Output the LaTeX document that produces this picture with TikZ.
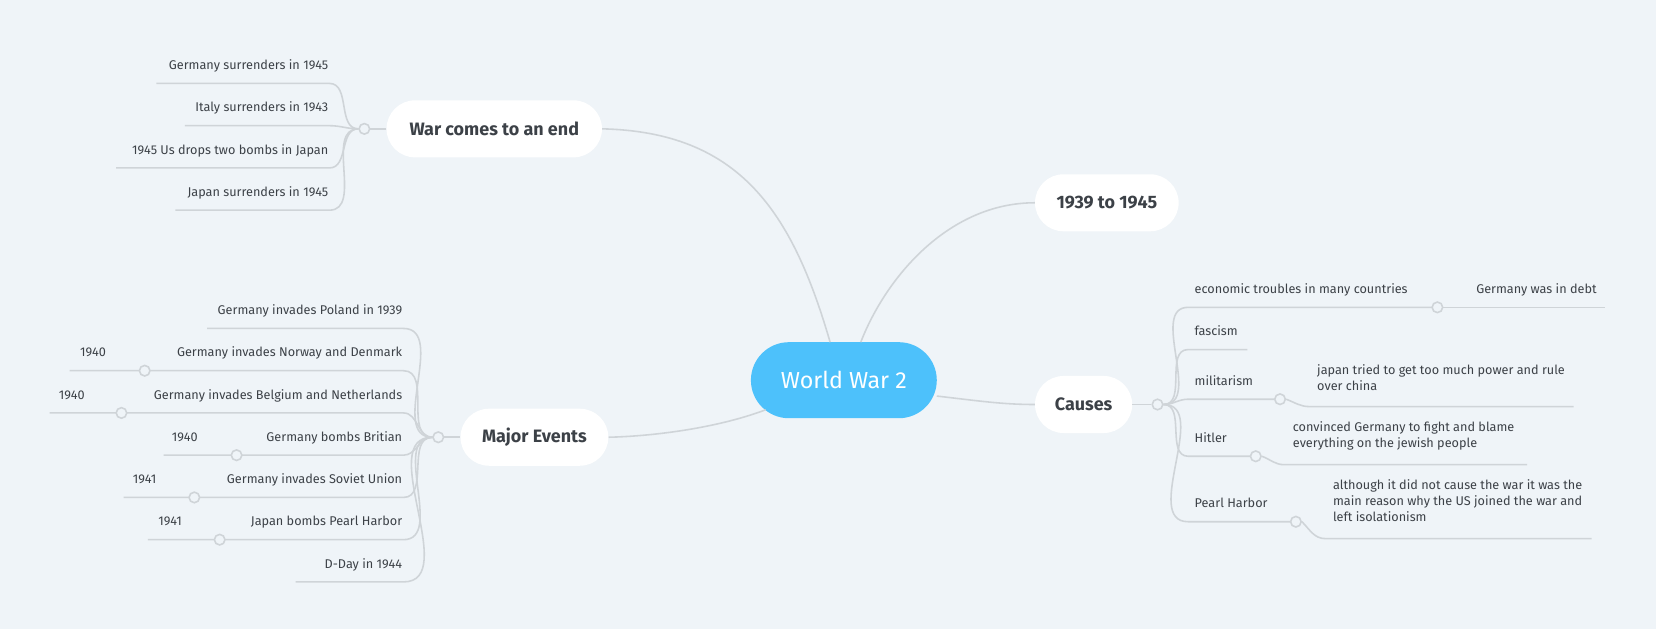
\documentclass[tikz,border=0pt]{standalone}
\usepackage{fontspec}
\setmainfont{Fira Sans}
\definecolor{bg}{HTML}{EFF4F8}
\definecolor{ln}{HTML}{CFD4D8}
\definecolor{tx}{HTML}{3C4147}
\definecolor{cen}{HTML}{4DC1FB}
\begin{document}
\begin{tikzpicture}[x=1pt,y=-1pt,
  every node/.style={text=tx},
  conn/.style={draw=ln,line width=1.5pt},
  topic/.style={fill=white,rounded corners=27pt,minimum height=54pt,inner xsep=16pt,font=\fontsize{17}{20}\selectfont\bfseries},
  dot/.style={circle,draw=ln,fill=bg,line width=1.5pt,minimum size=10pt,inner sep=0pt},
  lbl/.style={font=\fontsize{12}{15}\selectfont\addfontfeature{}\color{tx},inner sep=0pt},
]
\fill[bg] (0,0) rectangle (1568,596);
\useasboundingbox (0,0) rectangle (1568,596);
% central
\node[fill=cen,rounded corners=36pt,minimum width=176pt,minimum height=72pt,text=white,font=\fontsize{22}{26}\selectfont] (c) at (799,360) {World War 2};
\node[topic,minimum width=204pt] (end) at (468,122) {War comes to an end};
\node[topic,minimum width=136pt] (yrs) at (1048,192) {1939 to 1945};
\node[topic,minimum width=92pt] (cau) at (1026,383) {Causes};
\node[topic,minimum width=140pt] (maj) at (506,414) {Major Events};
\draw[conn] (786,324) .. controls (750,200) and (700,125) .. (end.east);
\draw[conn] (815,324) .. controls (840,260) and (900,192) .. (yrs.west);
\draw[conn] (887,375) .. controls (930,380) and (950,383) .. (cau.west);
\draw[conn] (725,388) .. controls (680,405) and (620,413) .. (maj.east);
% War comes to an end
\node[dot] (ed) at (345,122) {};
\draw[conn] (end.west) -- (ed.east);
\foreach \y/\l/\t [count=\i] in {79/148/Germany surrenders in 1945,119/175/Italy surrenders in 1943,159/110/1945 Us drops two bombs in Japan,199/166/Japan surrenders in 1945}{
  \node[lbl,anchor=base east] (e\i) at (311,\y-13) {\t};
  \draw[conn] (ed.west) to[out=180,in=0] (312,\y) -- (\l,\y);
}
% Major events
\node[dot] (md) at (415,414) {};
\draw[conn] (maj.west) -- (md.east);
\foreach \y/\l/\t [count=\i] in {311/196/Germany invades Poland in 1939,351/66/Germany invades Norway and Denmark,391/47/Germany invades Belgium and Netherlands,431/155/Germany bombs Britian,471/117/Germany invades Soviet Union,511/140/Japan bombs Pearl Harbor,551/280/D-Day in 1944}{
  \node[lbl,anchor=base east] (m\i) at (381,\y-13) {\t};
  \draw[conn] (md.west) to[out=180,in=0] (382,\y) -- (\l,\y);
}
\foreach \y/\cx/\tx/\t [count=\i] in {351/137/88/1940,391/115/68/1940,431/224/175/1940,471/184/137/1941,511/208/161/1941}{
  \node[dot,fill=bg] (ms\i) at (\cx,\y) {};
  \node[lbl,anchor=base] (mt\i) at (\tx,\y-13) {\t};
}
% Causes
\node[dot] (cd) at (1096,383) {};
\draw[conn] (cau.east) -- (cd.west);
\foreach \y/\r/\t [count=\i] in {291/1361/economic troubles in many countries,331/1181/fascism,378/1212/militarism,432/1189/Hitler,494/1227/Pearl Harbor}{
  \node[lbl,anchor=base west] (k\i) at (1131,\y-13) {\t};
  \draw[conn] (cd.east) to[out=0,in=180] (1125,\y) -- (\r,\y);
}
\node[dot] (s1) at (1361,291) {};
\draw[conn] (s1.east) -- (1520,291);
\node[lbl,anchor=base east] (t1) at (1512,278) {Germany was in debt};
\node[dot] (s2) at (1212,378) {};
\draw[conn] (s2.east) to[out=-20,in=180] (1240,385) -- (1490,385);
\node[lbl,anchor=north west,align=left,font=\fontsize{12}{15}\selectfont] (t2) at (1247,345) {japan tried to get too much power and rule\\over china};
\node[dot] (s3) at (1189,432) {};
\draw[conn] (s3.east) to[out=-20,in=180] (1216,440) -- (1446,440);
\node[lbl,anchor=north west,align=left,font=\fontsize{12}{15}\selectfont] (t3) at (1224,399) {convinced Germany to fight and blame\\everything on the jewish people};
\node[dot] (s4) at (1227,494) {};
\draw[conn] (s4.east) to[out=-45,in=180] (1255,510) -- (1507,510);
\node[lbl,anchor=north west,align=left,font=\fontsize{12}{15}\selectfont] (t4) at (1262,454) {although it did not cause the war it was the\\main reason why the US joined the war and\\left isolationism};
\end{tikzpicture}
\end{document}
